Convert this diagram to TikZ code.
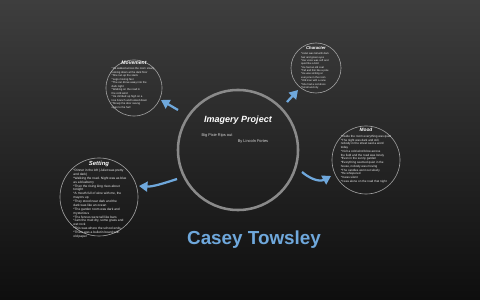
\documentclass[tikz,border=0pt]{standalone}
\usepackage{fontspec}
\setmainfont{Liberation Sans}
\usetikzlibrary{arrows.meta}
\definecolor{csblue}{HTML}{6FA8DC}
\definecolor{bgtop}{HTML}{3E3E3E}
\definecolor{bgbot}{HTML}{0E0E0E}
\definecolor{ringgray}{HTML}{8A8A8A}

\begin{document}
\begin{tikzpicture}[
  x=0.025cm, y=-0.025cm,
  bubble/.style={circle, draw=gray!75, line width=0.45pt, inner sep=0pt},
  bubtitle/.style={text=white, font=\fontsize{3.6}{4}\selectfont\bfseries\itshape},
  bubtext/.style={text=white!92!black, align=left, inner sep=0pt, anchor=north},
  flow/.style={csblue, line width=1.6pt, -{Triangle[length=6pt, width=7pt]}},
]
  \shade[top color=bgtop, bottom color=bgbot] (0,0) rectangle (480,300);

  % centre
  \node[circle, draw=ringgray, line width=1.8pt, minimum size=3cm] (proj) at (238,150) {};
  \node[text=white, font=\fontsize{6.4}{7}\selectfont\bfseries\itshape] (projtitle) at (238,120) {Imagery Project};
  \node[text=white!85!black, font=\fontsize{2.8}{3}\selectfont] (projsub) at (217,135) {Big Pixie Rips out};
  \node[text=white!85!black, font=\fontsize{2.8}{3}\selectfont] (projby) at (253,141) {By Lincoln Fortes};

  % bubbles
  \node[bubble, minimum size=1.4cm] (move) at (134,88) {};
  \node[bubtitle] (movetitle) at (134,62.5) {Movement};
  \node[bubtext, font=\fontsize{1.95}{2.5}\selectfont] (movetext) at (133,67.5) {
    *He walked across the room slowly\\ looking down at the dark floor\\ *She ran up the stairs\\
    *Legs moving fast\\ *The car drove away into the\\ dark night\\ *Walking on the road in\\
    the cold wind\\ *He climbed up high on a\\ tree branch and looked down\\
    *Slowly the door swung\\ open to the hall};

  \node[bubble, minimum size=1.25cm] (chara) at (316,68) {};
  \node[bubtitle, font=\fontsize{3}{3.5}\selectfont\bfseries\itshape] (charatitle) at (316,47.5) {Character};
  \node[bubtext, font=\fontsize{1.85}{2.4}\selectfont] (charatext) at (315,52.5) {
    *Juliet was tall with dark\\ hair and green eyes\\ *Her voice was soft and\\ quiet like a bird\\
    *He had an old coat\\ *Tall and thin like a pole\\ *He was smiling at\\ everyone in the room\\
    *Old man with a cane\\ *She had a red dress\\ *Small and shy};

  \node[bubble, minimum size=1.7cm] (mood) at (366,160) {};
  \node[bubtitle, font=\fontsize{3.4}{4}\selectfont\bfseries\itshape] (moodtitle) at (366,130) {Mood};
  \node[bubtext, font=\fontsize{2.15}{2.65}\selectfont] (moodtext) at (366,135) {
    *Inside the room everything was quiet\\ *The night was dark and still,\\
    nobody in the street said a word\\ today\\ *I felt a cold wind blow across\\
    the field and the road was lonely\\ *Even in the sunny garden\\
    *Everything seemed quiet in the\\ house, nobody was moving\\
    *The candles went out slowly\\ *He whispered\\ *It was silent\\
    *I was alone on the road that night};

  \node[bubble, minimum size=1.95cm] (sett) at (99,197) {};
  \node[bubtitle, font=\fontsize{4.2}{5}\selectfont\bfseries\itshape] (setttitle) at (99,163.5) {Setting};
  \node[bubtext, font=\fontsize{2.3}{2.75}\selectfont] (setttext) at (100,169) {
    *Dinner in the loft (Juliet was pretty\\ and dark)\\ *Walking the road. Night was as blue\\
    as a blueberry\\ *Then the rising king rises about\\ tonight\\
    *A mouth full of wine with me, the\\ mayors up\\ *They stood near dark and the\\
    dark was like an ocean\\ *The garden room was dark and\\ mysterious\\
    *The fences were tall like bars\\ *Jam the mud dry, some grass and\\ wet rock\\
    *This was where the school ends\\ *There was a bulletin board with\\ old paper};

  % arrows
  \coordinate (a1s) at (178,110);
  \coordinate (a1e) at (161,100);
  \coordinate (a2s) at (287,102);
  \coordinate (a2e) at (298,90);
  \coordinate (a3s) at (302,172);
  \coordinate (a3e) at (331,176);
  \coordinate (a4s) at (177,179);
  \coordinate (a4e) at (139,186);
  \draw[flow] (a1s) -- (a1e);
  \draw[flow] (a2s) -- (a2e);
  \draw[flow] (a3s) .. controls (314,182) and (322,181) .. (a3e);
  \draw[flow] (a4s) .. controls (165,183) and (152,187) .. (a4e);

  \node[text=csblue, font=\fontsize{13.4}{15}\selectfont\bfseries] (name) at (254,240) {Casey Towsley};
\end{tikzpicture}
\end{document}
